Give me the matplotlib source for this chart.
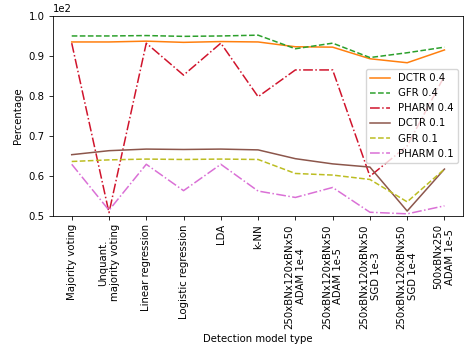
import matplotlib
matplotlib.use('Agg')
import matplotlib.pyplot as plt

models = ['Majority voting', 'Unquant.\nmajority voting', 'Linear regression',
          'Logistic regression', 'LDA', 'k-NN',
          '250xBNx120xBNx50\nADAM 1e-4', '250xBNx120xBNx50\nADAM 1e-5',
          '250xBNx120xBNx50\nSGD 1e-3', '250xBNx120xBNx50\nSGD 1e-4',
          '500xBNx250\nADAM 1e-5']

dctr_04 = [93.5, 93.5, 93.7, 93.4, 93.6, 93.5, 92.3, 92.2, 89.3, 88.3, 91.5]
gfr_04 = [95.0, 95.0, 95.1, 94.9, 95.0, 95.2, 91.8, 93.2, 89.6, 90.8, 92.2]
pharm_04 = [93.2, 50.8, 93.2, 85.2, 93.2, 79.8, 86.5, 86.5, 59.9, 67.5, 85.0]
dctr_01 = [65.3, 66.3, 66.7, 66.6, 66.7, 66.5, 64.3, 63.0, 62.2, 51.2, 61.7]
gfr_01 = [63.6, 64.0, 64.2, 64.1, 64.2, 64.1, 60.6, 60.2, 59.1, 53.5, 61.7]
pharm_01 = [62.9, 51.4, 62.9, 56.3, 62.9, 56.2, 54.6, 57.1, 50.9, 50.5, 52.5]

# original looks like a default-style figure scaled down by ~0.73
s = 0.73
plt.rcParams.update({
    'font.size': 10 * s,
    'lines.linewidth': 1.5 * s,
    'axes.linewidth': 0.8 * s,
    'xtick.major.size': 3.5 * s,
    'ytick.major.size': 3.5 * s,
    'xtick.major.width': 0.8 * s,
    'ytick.major.width': 0.8 * s,
    'legend.frameon': True,
})

fig, ax = plt.subplots(figsize=(4.74, 3.55), dpi=100)
fig.subplots_adjust(left=0.112, right=0.977, top=0.955, bottom=0.392)

x = range(len(models))
ax.plot(x, dctr_04, '-', color='tab:orange', label='DCTR 0.4')
ax.plot(x, gfr_04, '--', color='tab:green', label='GFR 0.4')
ax.plot(x, pharm_04, '-.', color='#d0142c', label='PHARM 0.4')
ax.plot(x, dctr_01, '-', color='tab:brown', label='DCTR 0.1')
ax.plot(x, gfr_01, '--', color='tab:olive', label='GFR 0.1')
ax.plot(x, pharm_01, '-.', color='orchid', label='PHARM 0.1')

ax.set_ylim(50, 100)
ax.ticklabel_format(axis='y', style='sci', scilimits=(0, 0))
ax.set_xticks(list(x))
ax.set_xticklabels(models, rotation=90)
ax.set_xlabel('Detection model type')
ax.set_ylabel('Percentage')
ax.legend(loc='center right')

plt.savefig('out.png', dpi=100)
